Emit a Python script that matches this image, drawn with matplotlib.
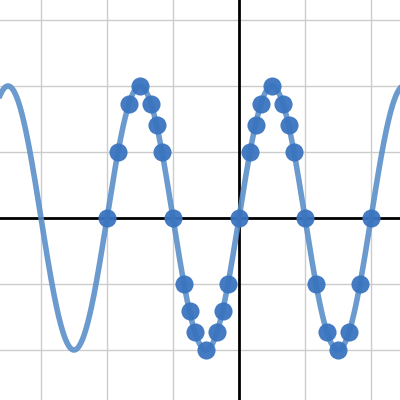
import matplotlib.pyplot as plt
import numpy as np

# plotted function y = 2 sin(pi x)
amp = 2.0
freq = np.pi

pts_x = [-2, -1.833, -1.667, -1.5, -1.333, -1.25, -1.167, -1, -0.833, -0.75, -0.667, -0.5,
         -0.333, -0.25, -0.167, 0, 0.167, 0.25, 0.333, 0.5, 0.667, 0.75, 0.833, 1,
         1.167, 1.333, 1.5, 1.667, 1.833, 2]
pts_y = [0, 1, 1.73, 2, 1.73, 1.41, 1, 0, -1, -1.41, -1.73, -2,
         -1.73, -1.41, -1, 0, 1, 1.41, 1.73, 2, 1.73, 1.41, 1, 0,
         -1, -1.73, -2, -1.73, -1, 0]

fig = plt.figure(figsize=(4, 4), dpi=100)
ax = fig.add_axes([0, 0, 1, 1])
xmin, xmax = -239 / 66, 161 / 66
ymin, ymax = -182 / 66, 218 / 66
ax.set_xlim(xmin, xmax)
ax.set_ylim(ymin, ymax)

for g in range(-4, 4):
    ax.axvline(g, color='#cccccc', lw=1, zorder=0)
for g in range(-3, 4):
    ax.axhline(g, color='#cccccc', lw=1, zorder=0)
ax.axhline(0, color='black', lw=2, zorder=1)
ax.axvline(0, color='black', lw=2, zorder=1)

xs = np.linspace(xmin, xmax, 800)
ax.plot(xs, amp * np.sin(freq * xs), color='#5b8fc9', lw=4, alpha=0.9, zorder=2)
ax.scatter(pts_x, pts_y, s=170, color='#3a74bf', alpha=0.95, zorder=3, linewidths=0)

ax.axis('off')
fig.savefig('out.png', dpi=100)
